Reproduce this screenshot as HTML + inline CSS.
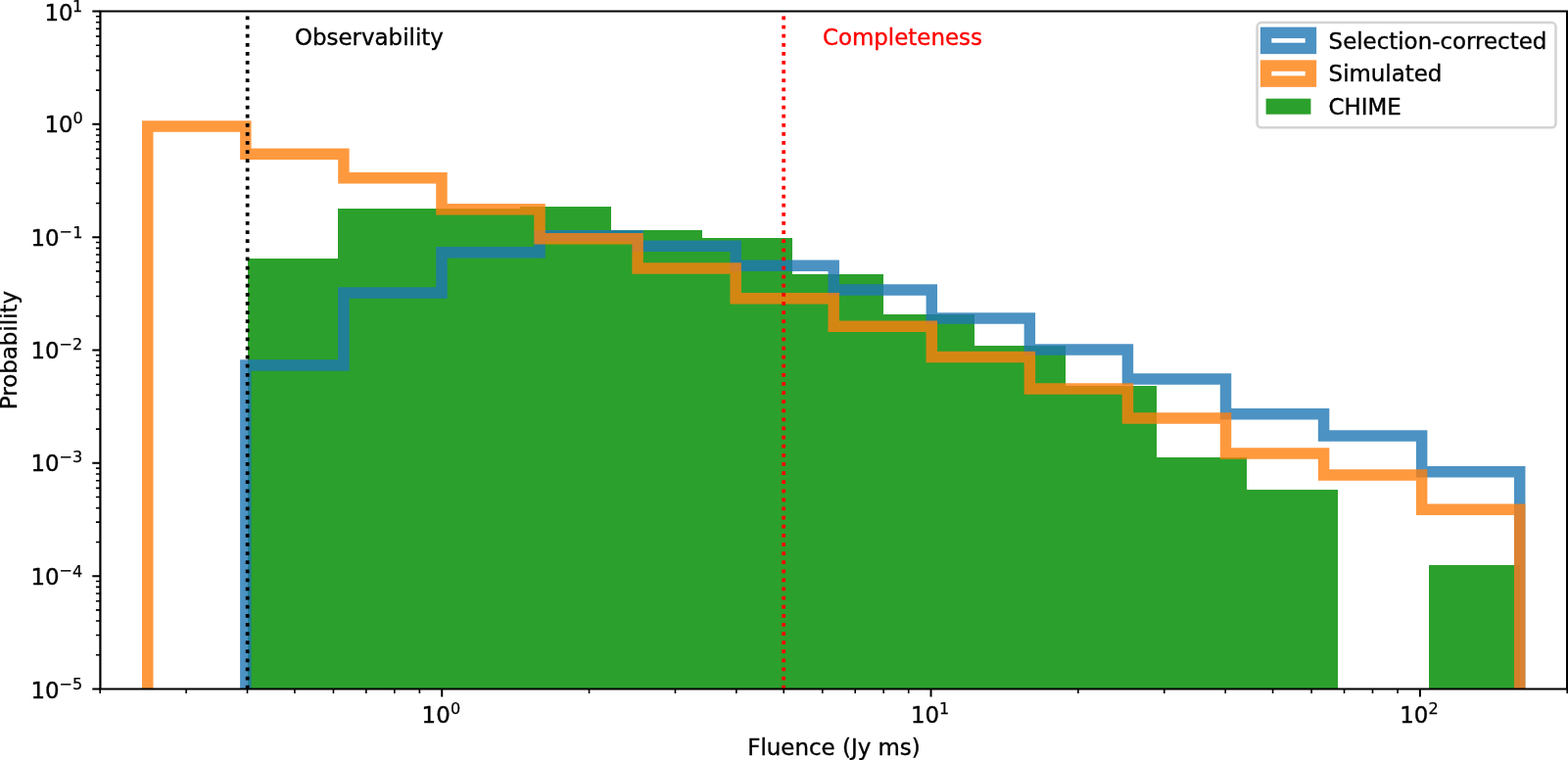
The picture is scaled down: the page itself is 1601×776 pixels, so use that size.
<!DOCTYPE html>
<html lang="en"><head><meta charset="utf-8"><title>Fluence distribution</title>
<style>html,body{margin:0;padding:0;background:#fff;}body{width:1601px;height:776px;overflow:hidden;}svg{display:block;}text{font-family:"DejaVu Sans","Liberation Sans",sans-serif;stroke:#000;stroke-width:0.35px;}text.r{stroke:#f00;}.s{stroke-width:0.25px;}</style></head><body>
<svg width="1601" height="776" viewBox="0 0 1601 776">
<rect width="1601" height="776" fill="#fff"/>
<defs><clipPath id="ax"><rect x="102.5" y="11.5" width="1498" height="692"/></clipPath></defs>
<g clip-path="url(#ax)">
<path d="M253 708.5V264H345V708.5ZM345 708.5V213H438V708.5ZM438 708.5V213H531V708.5ZM531 708.5V211H624V708.5ZM624 708.5V234.5H717V708.5ZM717 708.5V243H809V708.5ZM809 708.5V280H902V708.5ZM902 708.5V321H995V708.5ZM995 708.5V352.5H1088V708.5ZM1088 708.5V394H1181V708.5ZM1181 708.5V467H1273V708.5ZM1273 708.5V500H1366V708.5ZM1459 708.5V577H1552V708.5Z" fill="#2ca02c" shape-rendering="crispEdges"/>
<path d="M250.82 723.5V373H350.89V299.1H450.96V257.8H551.03V240.8H651.1V251.2H751.17V271.2H851.24V295.9H951.31V325H1051.38V357.1H1151.45V387H1251.52V422.8H1351.59V445H1451.66V481.8H1551.73V723.5" fill="none" stroke="#1f77b4" stroke-opacity="0.8" stroke-width="11.46" stroke-linejoin="miter"/>
<path d="M150.75 723.5V129.05H250.82V157.2H350.89V181.8H450.96V213.8H551.03V243.8H651.1V274.1H751.17V304.7H851.24V333.25H951.31V364.6H1051.38V397.1H1151.45V427H1251.52V463H1351.59V485H1451.66V520.2H1551.73V723.5" fill="none" stroke="#ff7f0e" stroke-opacity="0.8" stroke-width="11.46" stroke-linejoin="miter"/>
<path d="M252.65 703.56V11.5" stroke="#000" stroke-width="3.75" stroke-dasharray="3.75 5.36" fill="none"/>
<path d="M800.2 703.56V11.5" stroke="#f00" stroke-width="3.75" stroke-dasharray="3.75 5.36" fill="none"/>
</g>
<path d="M102.5 703.5h-8.2M102.5 588.17h-8.2M102.5 472.83h-8.2M102.5 357.5h-8.2M102.5 242.17h-8.2M102.5 126.83h-8.2M102.5 11.5h-8.2M451.22 703.5v8.1M950.55 703.5v8.1M1449.89 703.5v8.1" stroke="#000" stroke-width="2" fill="none"/>
<path d="M102.5 668.78h-4.58M102.5 648.47h-4.58M102.5 634.06h-4.58M102.5 622.89h-4.58M102.5 613.75h-4.58M102.5 606.03h-4.58M102.5 599.34h-4.58M102.5 593.44h-4.58M102.5 553.45h-4.58M102.5 533.14h-4.58M102.5 518.73h-4.58M102.5 507.55h-4.58M102.5 498.42h-4.58M102.5 490.7h-4.58M102.5 484.01h-4.58M102.5 478.11h-4.58M102.5 438.11h-4.58M102.5 417.81h-4.58M102.5 403.4h-4.58M102.5 392.22h-4.58M102.5 383.09h-4.58M102.5 375.37h-4.58M102.5 368.68h-4.58M102.5 362.78h-4.58M102.5 322.78h-4.58M102.5 302.47h-4.58M102.5 288.06h-4.58M102.5 276.89h-4.58M102.5 267.75h-4.58M102.5 260.03h-4.58M102.5 253.34h-4.58M102.5 247.44h-4.58M102.5 207.45h-4.58M102.5 187.14h-4.58M102.5 172.73h-4.58M102.5 161.55h-4.58M102.5 152.42h-4.58M102.5 144.7h-4.58M102.5 138.01h-4.58M102.5 132.11h-4.58M102.5 92.11h-4.58M102.5 71.81h-4.58M102.5 57.4h-4.58M102.5 46.22h-4.58M102.5 37.09h-4.58M102.5 29.37h-4.58M102.5 22.68h-4.58M102.5 16.78h-4.58M102.2 703.5v4.58M190.13 703.5v4.58M252.51 703.5v4.58M300.9 703.5v4.58M340.44 703.5v4.58M373.87 703.5v4.58M402.83 703.5v4.58M428.37 703.5v4.58M601.53 703.5v4.58M689.46 703.5v4.58M751.85 703.5v4.58M800.24 703.5v4.58M839.78 703.5v4.58M873.2 703.5v4.58M902.16 703.5v4.58M927.7 703.5v4.58M1100.87 703.5v4.58M1188.79 703.5v4.58M1251.18 703.5v4.58M1299.57 703.5v4.58M1339.11 703.5v4.58M1372.54 703.5v4.58M1401.5 703.5v4.58M1427.04 703.5v4.58M1600.2 703.5v4.58" stroke="#000" stroke-width="1.6" fill="none"/>
<path d="M101.3 11.5H1601M101.3 703.5H1601" stroke="#000" stroke-width="2" fill="none"/>
<path d="M102.4 11.5V703.5" stroke="#000" stroke-width="2.2" fill="none"/>
<path d="M1600 11.5V703.5" stroke="#000" stroke-width="2" fill="none"/>
<text font-size="22.92"><tspan x="31.5" y="713">10</tspan><tspan class="s" x="60.3" y="704" font-size="16.04">−</tspan><tspan class="s" x="74.05" y="704" font-size="16.04">5</tspan></text>
<text font-size="22.92"><tspan x="31.5" y="597">10</tspan><tspan class="s" x="60.3" y="588" font-size="16.04">−</tspan><tspan class="s" x="74.05" y="589" font-size="16.04">4</tspan></text>
<text font-size="22.92"><tspan x="31.5" y="481">10</tspan><tspan class="s" x="60.3" y="472" font-size="16.04">−</tspan><tspan class="s" x="74.05" y="472" font-size="16.04">3</tspan></text>
<text font-size="22.92"><tspan x="31.5" y="366">10</tspan><tspan class="s" x="60.3" y="357" font-size="16.04">−</tspan><tspan class="s" x="74.05" y="357" font-size="16.04">2</tspan></text>
<text font-size="22.92"><tspan x="31.5" y="251">10</tspan><tspan class="s" x="60.3" y="242" font-size="16.04">−</tspan><tspan class="s" x="74.2" y="243" font-size="16.04">1</tspan></text>
<text font-size="22.92"><tspan x="45.4" y="135">10</tspan><tspan class="s" x="74.45" y="126" font-size="16.04">0</tspan></text>
<text font-size="22.92"><tspan x="45.4" y="21">10</tspan><tspan class="s" x="74" y="12" font-size="16.04">1</tspan></text>
<text font-size="22.92"><tspan x="430.62" y="738">10</tspan><tspan class="s" x="460.12" y="729" font-size="16.04">0</tspan></text>
<text font-size="22.92"><tspan x="929.95" y="738">10</tspan><tspan class="s" x="959.05" y="729" font-size="16.04">1</tspan></text>
<text font-size="22.92"><tspan x="1429.29" y="738">10</tspan><tspan class="s" x="1458.39" y="729" font-size="16.04">2</tspan></text>
<text x="851.5" y="771.1" font-size="22.92" text-anchor="middle">Fluence (Jy ms)</text>
<text transform="translate(17.4 357.6) rotate(-90)" font-size="22.92" text-anchor="middle">Probability</text>
<text x="301" y="46.25" font-size="22.92">Observability</text>
<text class="r" x="840" y="46.25" font-size="22.92" fill="#f00">Completeness</text>
<rect x="1283.6" y="23.05" width="304.9" height="107.25" rx="4.3" ry="4.3" fill="#fff" stroke="#d4d4d4" stroke-width="2.6"/>
<rect x="1292.6" y="33.38" width="45.83" height="16.04" fill="none" stroke="#1f77b4" stroke-opacity="0.8" stroke-width="11.46"/>
<text x="1356.6" y="49.7" font-size="22.92">Selection-corrected</text>
<rect x="1292.6" y="67.08" width="45.83" height="16.04" fill="none" stroke="#ff7f0e" stroke-opacity="0.8" stroke-width="11.46"/>
<text x="1356.6" y="83" font-size="22.92">Simulated</text>
<rect x="1292.6" y="100.68" width="45.83" height="16.04" fill="#2ca02c"/>
<text x="1356.6" y="116.5" font-size="22.92">CHIME</text>
</svg></body></html>
